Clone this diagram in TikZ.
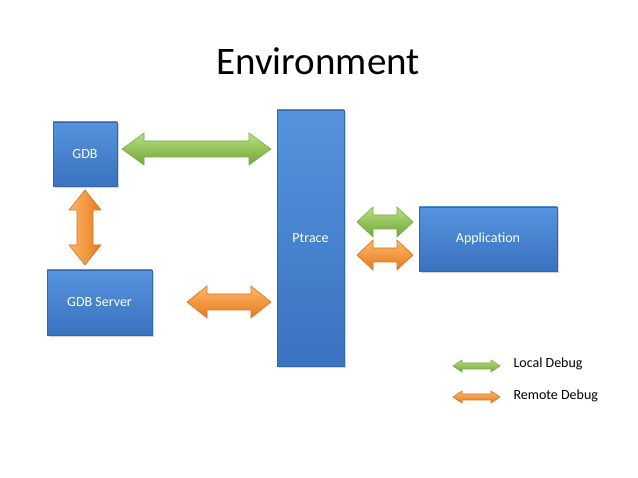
\documentclass[tikz,border=0pt]{standalone}
\usepackage{fontspec}
\setmainfont{Carlito}
\usetikzlibrary{shadows}
\definecolor{boxtop}{HTML}{5593DD}
\definecolor{boxbot}{HTML}{3A73BF}
\definecolor{boxline}{HTML}{3567A8}
\definecolor{gtop}{HTML}{B9E07F}
\definecolor{gbot}{HTML}{6FA63A}
\definecolor{gline}{HTML}{7AAA45}
\definecolor{otop}{HTML}{FDB868}
\definecolor{obot}{HTML}{E8781F}
\definecolor{oline}{HTML}{D9731F}
\tikzset{
  box/.style={draw=boxline, top color=boxtop, bottom color=boxbot, text=white,
    font=\fontsize{14}{16}\selectfont, drop shadow={opacity=0.35,shadow xshift=2pt,shadow yshift=-2pt}},
  garrow/.style={draw=gline, line width=0.6pt, top color=gtop, bottom color=gbot},
  oarrow/.style={draw=oline, line width=0.6pt, top color=otop, bottom color=obot},
  oarrowv/.style={draw=oline, line width=0.6pt, left color=otop, right color=obot},
  legend/.style={anchor=west, font=\fontsize{14}{16}\selectfont},
}
% horizontal double arrow: style, x1, x2, y, shaft half, head half, head length
\newcommand\harr[7]{\path[#1] (#2+#7,#4-#5) -- (#3-#7,#4-#5) -- (#3-#7,#4-#6) -- (#3,#4) -- (#3-#7,#4+#6) -- (#3-#7,#4+#5) -- (#2+#7,#4+#5) -- (#2+#7,#4+#6) -- (#2,#4) -- (#2+#7,#4-#6) -- cycle;}
\newcommand\varr[7]{\path[#1] (#4-#5,#2+#7) -- (#4-#6,#2+#7) -- (#4,#2) -- (#4+#6,#2+#7) -- (#4+#5,#2+#7) -- (#4+#5,#3-#7) -- (#4+#6,#3-#7) -- (#4,#3) -- (#4-#6,#3-#7) -- (#4-#5,#3-#7) -- cycle;}
\begin{document}
\begin{tikzpicture}[x=1pt,y=-1pt]
\useasboundingbox (0,0) rectangle (638,478);
\node[font=\fontsize{39}{44}\selectfont] (title) at (318,61) {Environment};
\node[box, minimum width=64pt, minimum height=64pt] (gdb) at (85,154) {GDB};
\node[box, minimum width=105pt, minimum height=65pt] (gdbs) at (99.5,302.5) {GDB Server};
\node[box, minimum width=67pt, minimum height=256pt] (ptrace) at (310.5,238) {Ptrace};
\node[box, minimum width=138pt, minimum height=64pt] (app) at (488,239) {Application};
\harr{garrow}{122}{271}{149}{8}{16}{22}
\varr{oarrowv}{190}{265}{85}{8}{16}{20}
\harr{oarrow}{187}{271}{302}{8}{16}{20}
\harr{garrow}{357}{413}{222}{7}{15}{16}
\harr{oarrow}{357}{413}{255}{7}{15}{16}
\harr{garrow}{453}{500}{366}{3}{6}{9}
\harr{oarrow}{453}{500}{397}{3}{6}{9}
\node[legend] (ld) at (510,364) {Local Debug};
\node[legend] (rd) at (510,396) {Remote Debug};
\end{tikzpicture}
\end{document}
